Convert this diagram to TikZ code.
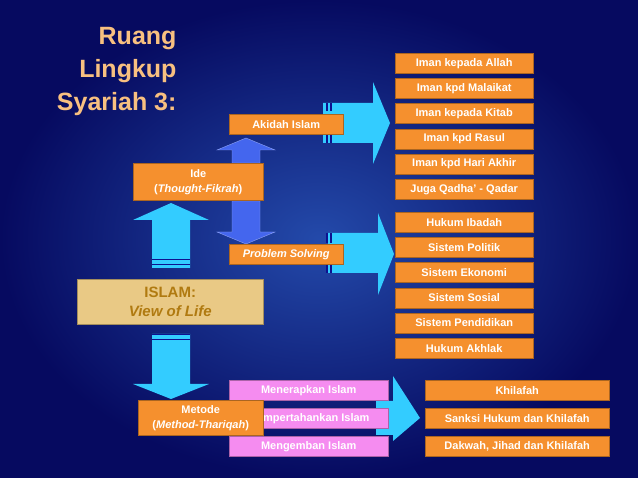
\documentclass[tikz,border=0pt]{standalone}
\usepackage{fontspec}
\setmainfont{Liberation Sans}
\definecolor{bgc}{HTML}{0D1290}
\definecolor{bgd}{HTML}{060A60}
\definecolor{org}{HTML}{F5902E}
\definecolor{cya}{HTML}{33CCFF}
\definecolor{blu}{HTML}{4466EE}
\definecolor{pnk}{HTML}{F58CF0}
\definecolor{tan}{HTML}{E9C985}
\definecolor{tantx}{HTML}{B07A10}
\definecolor{ttl}{HTML}{F8C080}
\begin{document}
\begin{tikzpicture}[x=1pt,y=-1pt,
  box/.style={draw=org!70!black,fill=org,text=white,font=\bfseries\fontsize{11}{13}\selectfont,minimum height=20pt,inner sep=0pt,anchor=north west},
  rbox/.style={box,minimum width=138pt},
  gbox/.style={box,minimum width=184pt},
  pbox/.style={box,fill=pnk,draw=pnk!70!black,minimum width=159pt},
  arr/.style={fill=cya},
  barr/.style={fill=blu,draw=blu!60!white}]
\useasboundingbox (0,0) rectangle (638,478);
\shade[inner color=bgc!85!cyan!90!white,outer color=bgd] (0,0) rectangle (638,478);
% title
\node[anchor=north east,align=right,text=ttl,font=\bfseries\fontsize{25}{33}\selectfont] (title) at (180,24) {Ruang\\Lingkup\\Syariah 3:};
% big arrows
\fill[arr] (323,103) -- (373,103) -- (373,82) -- (390,123) -- (373,164) -- (373,143) -- (323,143) -- cycle;
\fill[arr] (328,233) -- (378,233) -- (378,213) -- (394,254) -- (378,295) -- (378,273) -- (328,273) -- cycle;
\fill[arr] (376,401) -- (393,401) -- (393,376) -- (420,418) -- (393,441) -- (393,435) -- (376,435) -- cycle;
\foreach \yy/\h in {103/8,135/8,233/10,263/10}{\fill[bgc] (326,\yy) rectangle +(1.5,\h);\fill[bgc] (330,\yy) rectangle +(1.5,\h);}
% vertical arrows
\fill[arr] (152,268) -- (152,220) -- (133,220) -- (171,203) -- (209,220) -- (190,220) -- (190,268) -- cycle;
\fill[arr] (152,334) -- (152,384) -- (133,384) -- (171,399) -- (209,384) -- (190,384) -- (190,334) -- cycle;
\foreach \yy in {259,264,334,339}{\fill[bgc] (152,\yy) rectangle (190,{\yy+1.5});}
\filldraw[barr] (232,163) -- (232,150) -- (217,150) -- (246,138) -- (275,150) -- (260,150) -- (260,163) -- cycle;
\filldraw[barr] (232,201) -- (232,232) -- (217,232) -- (246,244) -- (275,232) -- (260,232) -- (260,201) -- cycle;
% left boxes
\node[box,minimum width=130pt,minimum height=37pt,align=center,font=\bfseries\fontsize{11}{15}\selectfont] (ide) at (133,163) {Ide\\(\textit{Thought-Fikrah})};
\node[box,fill=tan,draw=tan!70!black,text=tantx,minimum width=186pt,minimum height=45pt,align=center,font=\bfseries\fontsize{15}{19}\selectfont] (islam) at (77,279) {ISLAM:\\\textit{View of Life}};
\node[box,minimum width=114pt] (akidah) at (229,114) {Akidah Islam};
\node[box,minimum width=114pt,font=\bfseries\itshape\fontsize{11}{13}\selectfont] (ps) at (229,244) {Problem Solving};
% pink boxes
\node[pbox] (p1) at (229,380) {Menerapkan Islam};
\node[pbox] (p2) at (229,408) {Mempertahankan Islam};
\node[pbox] (p3) at (229,436) {Mengemban Islam};
\node[box,minimum width=125pt,minimum height=35pt,align=center,font=\bfseries\fontsize{11}{15}\selectfont] (metode) at (138,400) {Metode\\(\textit{Method-Thariqah})};
% right column
\foreach \t [count=\i] in {Iman kepada Allah,Iman kpd Malaikat,Iman kepada Kitab,Iman kpd Rasul,Iman kpd Hari Akhir,Juga Qadha' - Qadar}
  \node[rbox] (r\i) at (395,{53+25.2*(\i-1)}) {\t};
\foreach \t [count=\i] in {Hukum Ibadah,Sistem Politik,Sistem Ekonomi,Sistem Sosial,Sistem Pendidikan,Hukum Akhlak}
  \node[rbox] (s\i) at (395,{212+25.2*(\i-1)}) {\t};
\node[gbox] (g1) at (425,380) {Khilafah};
\node[gbox] (g2) at (425,408) {Sanksi Hukum dan Khilafah};
\node[gbox] (g3) at (425,436) {Dakwah, Jihad dan Khilafah};
\end{tikzpicture}
\end{document}
